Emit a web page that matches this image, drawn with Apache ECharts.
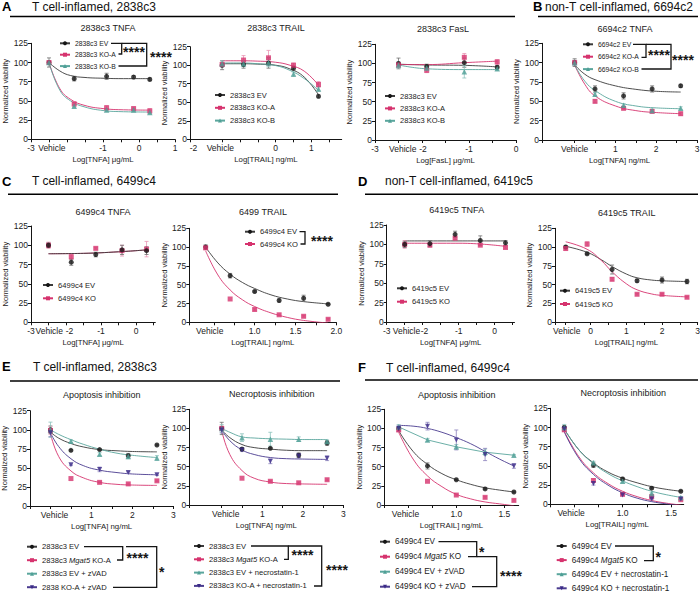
<!DOCTYPE html>
<html>
<head>
<meta charset="utf-8">
<script src="https://cdn.jsdelivr.net/npm/echarts@6/dist/echarts.min.js"></script>
<style>
  html, body { margin: 0; padding: 0; background: #fff; }
  #main { width: 700px; height: 594px; }
</style>
</head>
<body>
<div id="main"></div>
<script>
// ---- data (x = log dose, y = normalized viability) ----
// A: 2838c3 TNFA
const a1X = [-2.5, -1.8, -0.9, -0.15, 0.3]
const a1Ev = [100, 79, 82, 81, 78], a1EvErr = [6, 3, 4, 2, 2]
const a1KoA = [100, 46, 41, 40, 37], a1KoAErr = [0, 3, 3, 2, 3]
const a1KoB = [100, 43, 38, 38, 35], a1KoBErr = [0, 2, 2, 2, 2]
const a1FitX = [-2.5, -2.2, -1.9, -1.5, -1, -0.5, 0.3]
const a1EvFit = [100, 89, 83, 80.5, 79.5, 79, 79]
const a1KoAFit = [100, 66, 52, 44, 40, 38.5, 38]
const a1KoBFit = [100, 64, 50, 42, 37.5, 36, 35.5]
// A: 2838c3 TRAIL
const a2X = [-1.5, -0.9, -0.2, 0.5, 1.2]
const a2Ev = [100, 101, 103, 96, 58], a2EvErr = [6, 5, 7, 3, 2]
const a2KoA = [101, 107, 110, 100, 74], a2KoAErr = [3, 6, 10, 3, 4]
const a2KoB = [102, 102, 103, 88, 68], a2KoBErr = [4, 4, 5, 3, 3]
const a2FitX = [-1.5, -1, -0.5, 0, 0.4, 0.8, 1.2]
const a2EvFit = [102, 102, 101.5, 100, 95, 84, 60]
const a2KoAFit = [106, 106, 105.5, 104, 100, 92, 73]
const a2KoBFit = [103, 103, 102, 99.5, 93, 82, 66]
// A: 2838c3 FasL
const a3X = [-2.5, -1.9, -1.1, -0.4]
const a3Ev = [100, 96, 101, 95], a3EvErr = [7, 3, 6, 2]
const a3KoA = [98, 91, 108, 102], a3KoAErr = [3, 3, 5, 3]
const a3KoB = [98, 94, 89, 93], a3KoBErr = [4, 2, 8, 2]
const a3EvFit = [99, 98, 97.5, 95.5]
const a3KoAFit = [98.5, 98.5, 101, 103]
const a3KoBFit = [98, 93, 92, 92]
// B: 6694c2 TNFA
const bX = [0, 0.5, 1.2, 1.9, 2.6]
const bEv = [100, 66, 57, 66, 70], bEvErr = [5, 4, 4, 4, 2]
const bKoA = [100, 50, 41, 37, 34], bKoAErr = [3, 2, 2, 2, 2]
const bKoB = [100, 59, 45, 38, 41], bKoBErr = [3, 2, 2, 2, 2]
const bFitX = [0, 0.25, 0.5, 1, 1.5, 2, 2.6]
const bEvFit = [97, 85, 78, 70, 65.5, 63, 62]
const bKoAFit = [97, 72, 57, 44, 38, 35.5, 34]
const bKoBFit = [97, 76, 64, 50, 44, 41.5, 40.5]
// C: 6499c4 TNFA / TRAIL
const c1X = [-2.5, -1.85, -1.15, -0.4, 0.3]
const c1Ev = [100, 78, 88, 94, 93], c1EvErr = [3, 4, 3, 6, 5]
const c1Ko = [100, 85, 96, 93, 95], c1KoErr = [4, 3, 1, 7, 10]
const c1FitX = [-2.5, -1.5, -0.5, 0.3]
const c1EvFit = [89, 89.5, 91.5, 94]
const c1KoFit = [89, 89.5, 91.5, 94]
const c2X = [0.4, 0.7, 1.0, 1.3, 1.6, 1.9]
const c2Ev = [100, 62, 41, 29, 32, 24], c2EvErr = [3, 3, 1, 2, 4, 1]
const c2Ko = [99, 31, 17, 10, 8, 4], c2KoErr = [2, 0, 1, 1, 1, 1]
const c2FitX = [0.4, 0.55, 0.7, 0.85, 1.0, 1.2, 1.4, 1.6, 1.9]
const c2EvFit = [100, 79, 64, 53, 45, 36.5, 31, 27.5, 24.5]
const c2KoFit = [95, 63, 43, 30, 21, 12.5, 6.5, 2.5, -1]
// D: 6419c5 TNFA / TRAIL
const d1X = [-2.5, -1.8, -1.1, -0.4, 0.3]
const d1Ev = [100, 101, 113, 105, 102], d1EvErr = [4, 4, 4, 6, 3]
const d1Ko = [100, 99, 108, 99, 96], d1KoErr = [5, 2, 2, 1, 1]
const d1FitX = [-2.5, -1.1, -0.4, 0.3]
const d1EvFit = [104.5, 104.5, 104.5, 104.5]
const d1KoFit = [101.5, 101.5, 100.5, 97.5]
const d2X = [-0.7, -0.1, 0.6, 1.3, 2.0, 2.7]
const d2Ev = [100, 91, 70, 55, 56, 54], d2EvErr = [2, 1, 6, 2, 4, 3]
const d2Ko = [98, 104, 57, 37, 37, 33], d2KoErr = [2, 3, 2, 1, 1, 1]
const d2FitX = [-0.7, -0.1, 0.3, 0.6, 1.0, 1.3, 1.7, 2.0, 2.7]
const d2EvFit = [101, 93, 83, 74, 64, 59, 56, 55, 54]
const d2KoFit = [107, 97, 82, 67, 51, 43, 37.5, 35.5, 33.5]
// E: 2838c3 inhibitors, TNFA
const eX = [0, 0.5, 1.2, 1.9, 2.6]
const eFitX = [0, 0.2, 0.5, 0.8, 1.2, 1.6, 2.0, 2.6]
const e1Ev = [100, 73, 74, 66, 80], e1EvErr = [5, 1, 1, 3, 1]
const e1KoA = [99, 36, 31, 29, 33], e1KoAErr = [5, 0, 1, 1, 1]
const e1EvZ = [100, 85, 68, 65, 63], e1EvZErr = [10, 2, 2, 3, 3]
const e1KoZ = [96, 54, 48, 44, 41], e1KoZErr = [5, 1, 3, 1, 1]
const e1EvFit = [97, 89, 82, 77.5, 74, 72.5, 71.5, 71]
const e1KoAFit = [95, 65, 46, 37, 31, 28.5, 27.5, 27]
const e1EvZFit = [100, 94, 87, 81, 74.5, 69.5, 66.5, 63.5]
const e1KoZFit = [96, 78, 62, 53, 47, 44, 42, 41]
const e2Ev = [100, 73, 74, 65, 81], e2EvErr = [8, 2, 1, 3, 3]
const e2KoA = [100, 35, 31, 29, 33], e2KoAErr = [3, 0, 1, 1, 1]
const e2EvN = [100, 88, 86, 86, 83], e2EvNErr = [5, 5, 9, 3, 2]
const e2KoN = [98, 72, 57, 64, 61], e2KoNErr = [4, 2, 3, 3, 3]
const e2EvFit = [98, 88, 79, 75, 73, 71.5, 71, 71]
const e2KoAFit = [97, 66, 45, 35, 30, 28, 27.5, 27]
const e2EvNFit = [100, 95, 89, 87.5, 86.5, 86, 85.5, 85.5]
const e2KoNFit = [98, 84, 72, 66, 62, 60.5, 60, 59.5]
// F: 6499c4 inhibitors, TRAIL
const fX = [0.4, 0.7, 1.0, 1.3, 1.6]
const fFitX = [0.4, 0.55, 0.7, 0.85, 1.0, 1.15, 1.3, 1.45, 1.6]
const f1Ev = [100, 51, 33, 21, 17], f1EvErr = [2, 4, 1, 1, 1]
const f1Ko = [98, 31, 13, 10, 6], f1KoErr = [2, 0, 1, 1, 1]
const f1EvZ = [102, 85, 76, 69, 65], f1EvZErr = [3, 2, 3, 4, 1]
const f1KoZ = [100, 103, 85, 66, 51], f1KoZErr = [4, 5, 13, 8, 3]
const f1EvFit = [97, 70, 53, 41, 33, 27, 22.5, 19.5, 17]
const f1KoFit = [95, 60, 38, 24, 14, 8, 4, 1.5, -1]
const f1KoZFit = [104, 103, 100, 95, 88, 80, 70, 60, 51]
const f2Ev = [100, 51, 33, 21, 17], f2EvErr = [2, 3, 2, 1, 1]
const f2Ko = [97, 31, 13, 10, 6], f2KoErr = [2, 2, 1, 1, 1]
const f2EvN = [100, 54, 30, 14, 9], f2EvNErr = [4, 2, 2, 1, 1]
const f2KoN = [98, 27, 12, 7, 7], f2KoNErr = [3, 2, 1, 1, 1]
const f2EvFit = [98, 71, 54, 42, 34, 28, 23, 19.5, 17]
const f2KoFit = [95, 62, 41, 27, 17, 10, 5, 1.5, -1]
const f2EvNFit = [98, 71, 53, 40, 30.5, 23, 17, 12.5, 9]
const f2KoNFit = [94, 60, 39, 25, 15, 8, 3.5, 0.5, -2]

const FONT = '"Liberation Sans", Arial, sans-serif'
const INK = '#151515'
const kinds = {
  ev: { color: INK, fit: '#3a3a3a', err: '#707070', symbol: 'circle', size: 5 },
  ko: { color: '#d6336e', fit: '#d6336e', err: '#e994b4', symbol: 'rect', size: 5 },
  teal: { color: '#4f9f96', fit: '#5aa69d', err: '#8cc3bc', symbol: 'triangle', size: 5.5 },
  purple: { color: '#3b2b88', fit: '#4a3b8f', err: '#8a80bb', symbol: 'path://M0,0L10,0L5,9Z', size: 5 }
}

function g (name, kind, xs, ys, err, fitX, fit, straight) {
  return { name, kind, xs, ys, err, fitX, fit, straight }
}

// grid: [left, top, width, height], xr: [min, max], legend: [left, top, rowStep, fontSize]
const plots = [
  { grid: [31, 43.3, 144, 96], xr: [-3, 1], ticks: [-3, -2.5, -2, -1.5, -1, -0.5, 0, 0.5, 1],
    labels: [[-3, '-3'], [-2.42, 'Vehicle'], [-1, '-1'], [0, '0'], [1, '1']], xName: 'Log[TNFA] μg/mL',
    title: ['2838c3 TNFA', 108, 28.3], legend: [59, 38.3, 11.4, 6.8],
    groups: [g('2838c3 EV', 'ev', a1X, a1Ev, a1EvErr, a1FitX, a1EvFit), g('2838c3 KO-A', 'ko', a1X, a1KoA, a1KoAErr, a1FitX, a1KoAFit), g('2838c3 KO-B', 'teal', a1X, a1KoB, a1KoBErr, a1FitX, a1KoBFit)] },
  { grid: [190, 46.7, 151.7, 92.6], xr: [-2.4, 1.85], ticks: [-2.4, -1.5, -1, -0.5, 0, 0.5, 1, 1.5],
    labels: [[-2.3, '-2'], [-1.55, 'Vehicle'], [0, '0'], [1, '1']], xName: 'Log[TRAIL] ng/mL',
    title: ['2838c3 TRAIL', 276, 28.3], legend: [214, 90, 12.8, 7.5],
    groups: [g('2838c3 EV', 'ev', a2X, a2Ev, a2EvErr, a2FitX, a2EvFit), g('2838c3 KO-A', 'ko', a2X, a2KoA, a2KoAErr, a2FitX, a2KoAFit), g('2838c3 KO-B', 'teal', a2X, a2KoB, a2KoBErr, a2FitX, a2KoBFit)] },
  { grid: [375, 44.3, 141, 95.7], xr: [-3, 0], ticks: [-3, -2.5, -2, -1.5, -1, -0.5, 0],
    labels: [[-3, '-3'], [-2.41, 'Vehicle'], [-1.98, '-2'], [-1, '-1'], [0, '0']], xName: 'Log[FasL] μg/mL',
    title: ['2838c3 FasL', 443, 29], legend: [384, 91, 12.4, 7.5],
    groups: [g('2838c3 EV', 'ev', a3X, a3Ev, a3EvErr, a3X, a3EvFit), g('2838c3 KO-A', 'ko', a3X, a3KoA, a3KoAErr, a3X, a3KoAFit), g('2838c3 KO-B', 'teal', a3X, a3KoB, a3KoBErr, a3X, a3KoBFit)] },
  { grid: [542, 43.3, 155, 96.7], xr: [-0.8, 3], ticks: [-0.8, 0, 0.5, 1, 1.5, 2, 2.5, 3],
    labels: [[0, 'Vehicle'], [1, '1'], [2, '2'], [3, '3']], xName: 'Log[TNFA] ng/mL',
    title: ['6694c2 TNFA', 625, 29], legend: [582, 39.3, 12.4, 6.8],
    groups: [g('6694c2 EV', 'ev', bX, bEv, bEvErr, bFitX, bEvFit), g('6694c2 KO-A', 'ko', bX, bKoA, bKoAErr, bFitX, bKoAFit), g('6694c2 KO-B', 'teal', bX, bKoB, bKoBErr, bFitX, bKoBFit)] },
  { grid: [31, 226, 124.3, 96.3], xr: [-3, 0.55], ticks: [-3, -2.5, -2, -1.5, -1, -0.5, 0, 0.5],
    labels: [[-3, '-3'], [-2.48, 'Vehicle'], [-1.9, '-2'], [-1, '-1'], [0, '0']], xName: 'Log[TNFA] μg/mL',
    title: ['6499c4 TNFA', 103, 211.7], legend: [42, 280, 13.3, 7.6],
    groups: [g('6499c4 KO', 'ko', c1X, c1Ko, c1KoErr, c1FitX, c1KoFit), g('6499c4 EV', 'ev', c1X, c1Ev, c1EvErr, c1FitX, c1EvFit)] },
  { grid: [189.3, 228.3, 147, 94], xr: [0.2, 2], ticks: [0.2, 0.5, 0.75, 1, 1.25, 1.5, 1.75, 2],
    labels: [[0.45, 'Vehicle'], [1, '1.0'], [1.5, '1.5'], [2, '2.0']], xName: 'Log[TRAIL] ng/mL',
    title: ['6499 TRAIL', 263, 211.7], legend: [244, 226.7, 12.3, 7.6],
    groups: [g('6499c4 EV', 'ev', c2X, c2Ev, c2EvErr, c2FitX, c2EvFit), g('6499c4 KO', 'ko', c2X, c2Ko, c2KoErr, c2FitX, c2KoFit)] },
  { grid: [386.7, 225, 127.8, 97], xr: [-3, 0.55], ticks: [-3, -2.5, -2, -1.5, -1, -0.5, 0, 0.5],
    labels: [[-3, '-3'], [-2.45, 'Vehicle'], [-1.95, '-2'], [-1, '-1'], [0, '0']], xName: 'Log[TNFA] μg/mL',
    title: ['6419c5 TNFA', 456.7, 210], legend: [396, 283.3, 13.4, 7.6],
    groups: [g('6419c5 KO', 'ko', d1X, d1Ko, d1KoErr, d1FitX, d1KoFit), g('6419c5 EV', 'ev', d1X, d1Ev, d1EvErr, d1FitX, d1EvFit)] },
  { grid: [555, 228.3, 142.7, 93.7], xr: [-1, 3], ticks: [-1, -0.7, 0, 0.5, 1, 1.5, 2, 2.5, 3],
    labels: [[-0.67, 'Vehicle'], [0, '0'], [1, '1'], [2, '2'], [3, '3']], xName: 'Log[TRAIL] ng/mL',
    title: ['6419c5 TRAIL', 626.7, 213], legend: [559, 285.7, 13.3, 7.6],
    groups: [g('6419c5 EV', 'ev', d2X, d2Ev, d2EvErr, d2FitX, d2EvFit), g('6419c5 KO', 'ko', d2X, d2Ko, d2KoErr, d2FitX, d2KoFit)] },
  { grid: [30, 410.7, 143.3, 95.3], xr: [-0.5, 3], ticks: [-0.5, 0, 0.5, 1, 1.5, 2, 2.5, 3],
    labels: [[0.1, 'Vehicle'], [1, '1'], [2, '2'], [3, '3']], xName: 'Log[TNFA] ng/mL',
    title: ['Apoptosis inhibition', 101.7, 395], legend: [26, 541.7, 13.5, 7.6],
    groups: [g('2838c3 EV', 'ev', eX, e1Ev, e1EvErr, eFitX, e1EvFit), g('2838c3 Mgat5 KO-A', 'ko', eX, e1KoA, e1KoAErr, eFitX, e1KoAFit),
      g('2838c3 EV + zVAD', 'teal', eX, e1EvZ, e1EvZErr, eFitX, e1EvZFit), g('2838 KO-A + zVAD', 'purple', eX, e1KoZ, e1KoZErr, eFitX, e1KoZFit)] },
  { grid: [189.3, 409.3, 154, 95.7], xr: [-0.8, 3], ticks: [-0.8, 0, 0.5, 1, 1.5, 2, 2.5, 3],
    labels: [[0.1, 'Vehicle'], [1, '1'], [2, '2'], [3, '3']], xName: 'Log[TNFA] ng/mL',
    title: ['Necroptosis inhibition', 271.7, 393.7], legend: [193, 541, 13.3, 7.6],
    groups: [g('2838c3 EV', 'ev', eX, e2Ev, e2EvErr, eFitX, e2EvFit), g('2838c3 Mgat5 KO-A', 'ko', eX, e2KoA, e2KoAErr, eFitX, e2KoAFit),
      g('2838c3 EV + necrostatin-1', 'teal', eX, e2EvN, e2EvNErr, eFitX, e2EvNFit), g('2838c3 KO-A + necrostatin-1', 'purple', eX, e2KoN, e2KoNErr, eFitX, e2KoNFit)] },
  { grid: [384.3, 409.3, 134.4, 95.7], xr: [0.25, 1.65], ticks: [0.25, 0.5, 0.75, 1, 1.25, 1.5],
    labels: [[0.47, 'Vehicle'], [1, '1.0'], [1.5, '1.5']], xName: 'Log[TRAIL] ng/mL',
    title: ['Apoptosis inhibition', 456.7, 395], legend: [379, 536.7, 15, 8.2],
    groups: [g('6499c4 EV', 'ev', fX, f1Ev, f1EvErr, fFitX, f1EvFit), g('6499c4 Mgat5 KO', 'ko', fX, f1Ko, f1KoErr, fFitX, f1KoFit),
      g('6499c4 EV + zVAD', 'teal', fX, f1EvZ, f1EvZErr, fX, f1EvZ, true), g('6499c4 KO + zVAD', 'purple', fX, f1KoZ, f1KoZErr, fFitX, f1KoZFit)] },
  { grid: [550.7, 408.3, 133, 96], xr: [0.26, 1.63], ticks: [0.26, 0.5, 0.75, 1, 1.25, 1.5],
    labels: [[0.47, 'Vehicle'], [1, '1.0'], [1.5, '1.5']], xName: 'Log[TRAIL] ng/mL',
    title: ['Necroptosis inhibition', 623.3, 393.3], legend: [555.7, 541, 14.1, 8.2],
    groups: [g('6499c4 EV', 'ev', fX, f2Ev, f2EvErr, fFitX, f2EvFit), g('6499c4 Mgat5 KO', 'ko', fX, f2Ko, f2KoErr, fFitX, f2KoFit),
      g('6499c4 EV + necrostatin-1', 'teal', fX, f2EvN, f2EvNErr, fFitX, f2EvNFit), g('6499c4 KO + necrostatin-1', 'purple', fX, f2KoN, f2KoNErr, fFitX, f2KoNFit)] }
]

// panel headings [letter, lx, text, tx, y] and rules [x1, x2, y]
const headings = [
  ['A', 2, 'T cell-inflamed, 2838c3', 32, 6.5], ['B', 533, 'non-T cell-inflamed, 6694c2', 545, 6.5],
  ['C', 2, 'T cell-inflamed, 6499c4', 32, 181], ['D', 358, 'non-T cell-inflamed, 6419c5', 385, 181],
  ['E', 2, 'T cell-inflamed, 2838c3', 33, 366.7], ['F', 358, 'T cell-inflamed, 6499c4', 386, 367.5]
]
const rules = [[10, 515, 16.5], [538, 698, 16.5], [8, 338, 194.3], [365, 698, 194.3], [10, 340, 381], [365, 698, 380]]
// significance brackets and stars
const brackets = [
  [[111, 43.3], [121.7, 43.3], [121.7, 54], [118.5, 54]], [[121.7, 43.3], [146.7, 43.3], [146.7, 66], [118.5, 66]],
  [[633, 44.3], [646, 44.3], [646, 57.3], [641.5, 57.3]], [[646, 44.3], [671, 44.3], [671, 69], [641.5, 69]],
  [[299.5, 231.7], [305, 231.7], [305, 244], [300.5, 244]],
  [[84, 546.7], [122.7, 546.7], [122.7, 560], [117, 560]], [[126, 546.7], [156.7, 546.7], [156.7, 587.3], [113, 587.3]],
  [[251, 546], [288.3, 546], [288.3, 559.3], [284, 559.3]], [[288.3, 546], [321.7, 546], [321.7, 586], [314, 586]],
  [[438.5, 541.7], [476.7, 541.7], [476.7, 556.7], [468, 556.7]], [[476.7, 556.7], [496.7, 556.7], [496.7, 586.7], [472, 586.7]],
  [[615, 546], [653.3, 546], [653.3, 560.7], [644, 560.7]]
]
const stars = [
  ['****', 134, 52], ['****', 161, 57], ['****', 659, 54.7], ['****', 683, 60.4], ['****', 322, 241.4],
  ['****', 137.5, 558], ['*', 161.7, 572], ['****', 302.5, 555.4], ['****', 337, 569.7],
  ['*', 481.7, 552], ['****', 511, 576.4], ['*', 658.3, 557]
]

const grids = [], xAxes = [], yAxes = [], series = [], legends = [], graphics = []

plots.forEach((p, gi) => {
  grids.push({ left: p.grid[0], top: p.grid[1], width: p.grid[2], height: p.grid[3], containLabel: false, outerBoundsMode: 'none' })
  const lab = p.labels
  xAxes.push({
    gridIndex: gi, type: 'value', min: p.xr[0], max: p.xr[1],
    axisLine: { onZero: false, lineStyle: { color: INK, width: 1 } },
    axisTick: { customValues: p.ticks, length: 3, lineStyle: { color: INK, width: 1 } },
    axisLabel: {
      customValues: lab.map(l => l[0]), fontSize: 8.5, color: '#222', fontFamily: FONT, margin: 4,
      formatter: v => { const m = lab.find(l => Math.abs(l[0] - v) < 1e-6); return m ? m[1] : '' }
    },
    splitLine: { show: false },
    name: p.xName, nameLocation: 'middle', nameGap: 16,
    nameTextStyle: { fontSize: 7.8, color: '#222', fontFamily: FONT }
  })
  yAxes.push({
    gridIndex: gi, type: 'value', min: 0, max: 125, interval: 25,
    axisLine: { show: true, onZero: false, lineStyle: { color: INK, width: 1 } },
    axisTick: { show: true, length: 3, lineStyle: { color: INK, width: 1 } },
    axisLabel: { fontSize: 8.5, color: '#222', fontFamily: FONT, margin: 3 },
    splitLine: { show: false },
    name: 'Normalized viability', nameLocation: 'middle', nameGap: 19,
    nameTextStyle: { fontSize: 7.5, color: '#222', fontFamily: FONT }
  })

  p.groups.forEach(gr => {
    const k = kinds[gr.kind]
    series.push({
      type: 'line', name: gr.name, xAxisIndex: gi, yAxisIndex: gi,
      data: gr.fitX.map((x, i) => [x, gr.fit[i]]),
      smooth: gr.straight ? false : 0.45, showSymbol: false, symbol: k.symbol, symbolSize: k.size,
      itemStyle: { color: k.color }, lineStyle: { color: k.fit, width: 0.9 },
      clip: true, silent: true, animation: false, z: 2
    })
    series.push({
      type: 'custom', name: gr.name, xAxisIndex: gi, yAxisIndex: gi,
      data: gr.xs.map((x, i) => [x, gr.ys[i], gr.err[i]]),
      encode: { x: 0, y: 1 }, silent: true, animation: false, z: 3,
      renderItem: (params, api) => {
        const e = api.value(2)
        if (!e) return { type: 'group', children: [] }
        const hi = api.coord([api.value(0), api.value(1) + e])
        const lo = api.coord([api.value(0), api.value(1) - e])
        const st = { stroke: k.err, lineWidth: 0.8 }
        return { type: 'group', children: [
          { type: 'line', shape: { x1: hi[0], y1: hi[1], x2: lo[0], y2: lo[1] }, style: st },
          { type: 'line', shape: { x1: hi[0] - 2, y1: hi[1], x2: hi[0] + 2, y2: hi[1] }, style: st },
          { type: 'line', shape: { x1: lo[0] - 2, y1: lo[1], x2: lo[0] + 2, y2: lo[1] }, style: st }
        ] }
      }
    })
    series.push({
      type: 'scatter', name: gr.name, xAxisIndex: gi, yAxisIndex: gi,
      data: gr.xs.map((x, i) => [x, gr.ys[i]]),
      symbol: k.symbol, symbolSize: k.size, itemStyle: { color: k.color },
      silent: true, animation: false, z: 4
    })
  })

  // legend rows keep the order of the figure (EV first)
  const names = p.groups.map(gr => gr.name).sort((a, b) => {
    const order = n => /EV$/.test(n) ? 0 : (/zVAD|necrostatin/.test(n) ? (/EV/.test(n) ? 2 : 3) : 1)
    return order(a) - order(b)
  })
  const fs = p.legend[3]
  legends.push({
    data: names, orient: 'vertical', left: p.legend[0], top: p.legend[1], padding: 0,
    itemGap: p.legend[2] - 10, itemWidth: 10, itemHeight: 5, selectedMode: false,
    formatter: n => n.replace('Mgat5', '{i|Mgat5}'),
    textStyle: { fontSize: fs, lineHeight: 10, color: '#1a1a1a', fontFamily: FONT,
      rich: { i: { fontStyle: 'italic', fontSize: fs, lineHeight: 10, color: '#1a1a1a', fontFamily: FONT } } }
  })

  graphics.push({ type: 'text', x: p.title[1], y: p.title[2], silent: true,
    style: { text: p.title[0], fill: '#222', font: '9px ' + FONT, textAlign: 'center', textVerticalAlign: 'middle' } })
})

headings.forEach(h => {
  graphics.push({ type: 'text', x: h[1], y: h[4], silent: true,
    style: { text: h[0], fill: '#000', font: 'bold 13px ' + FONT, textVerticalAlign: 'middle' } })
  graphics.push({ type: 'text', x: h[3], y: h[4], silent: true,
    style: { text: h[2], fill: '#111', font: '12px ' + FONT, textVerticalAlign: 'middle' } })
})
rules.forEach(r => {
  graphics.push({ type: 'line', silent: true, shape: { x1: r[0], y1: r[2], x2: r[1], y2: r[2] }, style: { stroke: '#000', lineWidth: 1.6 } })
})
brackets.forEach(b => {
  graphics.push({ type: 'polyline', silent: true, shape: { points: b }, style: { stroke: INK, lineWidth: 1.3, fill: null } })
})
stars.forEach(s => {
  graphics.push({ type: 'text', x: s[1], y: s[2], silent: true,
    style: { text: s[0], fill: INK, font: 'bold 14px ' + FONT, textAlign: 'center', textVerticalAlign: 'middle' } })
})

const chart = echarts.init(document.getElementById('main'), null, { renderer: 'svg' })
chart.setOption({
  backgroundColor: '#fff',
  animation: false,
  textStyle: { fontFamily: FONT },
  grid: grids,
  xAxis: xAxes,
  yAxis: yAxes,
  legend: legends,
  series: series,
  graphic: graphics
})
</script>
</body>
</html>
